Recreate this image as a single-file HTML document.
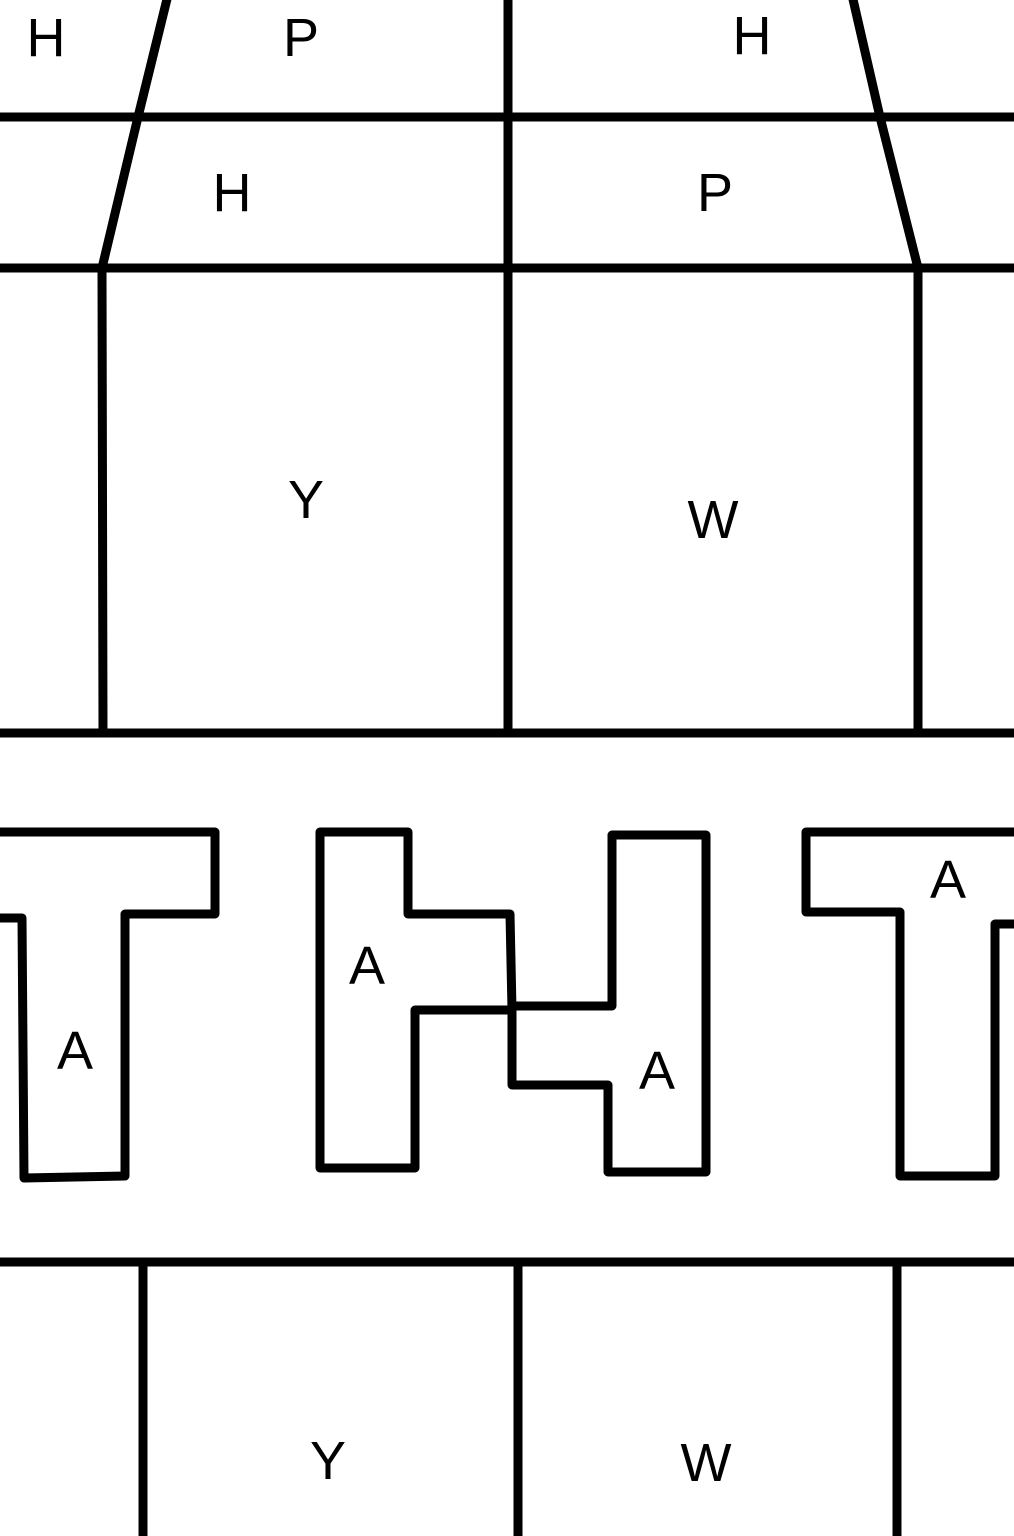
<!DOCTYPE html>
<html><head><meta charset="utf-8"><style>
html,body{margin:0;padding:0;background:#fff;}
svg{display:block;}
text{font-family:"Liberation Sans",sans-serif;font-size:54px;fill:#000;text-anchor:middle;dominant-baseline:central;}
</style></head><body>
<svg width="1014" height="1536" viewBox="0 0 1014 1536" xmlns="http://www.w3.org/2000/svg">
<g fill="none" stroke="#000" stroke-width="9" stroke-linejoin="round" stroke-linecap="round">
<line x1="-5" y1="117" x2="1020" y2="117"/>
<line x1="-5" y1="268" x2="1020" y2="268"/>
<line x1="508" y1="-5" x2="508" y2="732"/>
<polyline points="168,-5 138,117 102,268 103,732"/>
<polyline points="852,-5 880,117 918,268 918,732"/>
<line x1="-5" y1="733" x2="1020" y2="733"/>
<polyline points="-5,918 22,918 24,1178 125,1176 125,914 215,914 215,832 -5,832"/>
<polygon points="320,832 408,832 408,914 510,914 512,1010 415,1010 415,1168 320,1168"/>
<polygon points="612,835 706,835 706,1172 608,1172 608,1085 512,1085 512,1006 612,1006"/>
<polyline points="1020,832 806,832 806,912 900,912 900,1176 995,1176 995,924 1020,924"/>
<line x1="-5" y1="1262" x2="1020" y2="1262"/>
<line x1="143" y1="1262" x2="143" y2="1540"/>
<line x1="518" y1="1262" x2="518" y2="1540"/>
<line x1="897" y1="1262" x2="897" y2="1540"/>
</g>
<text x="46" y="38">H</text>
<text x="301" y="38">P</text>
<text x="752" y="36">H</text>
<text x="232" y="193">H</text>
<text x="715" y="193">P</text>
<text x="306" y="500">Y</text>
<text x="713" y="520">W</text>
<text x="75" y="1051">A</text>
<text x="367" y="966">A</text>
<text x="657" y="1071">A</text>
<text x="948" y="880">A</text>
<text x="328" y="1461">Y</text>
<text x="706" y="1463">W</text>
</svg>
</body></html>
